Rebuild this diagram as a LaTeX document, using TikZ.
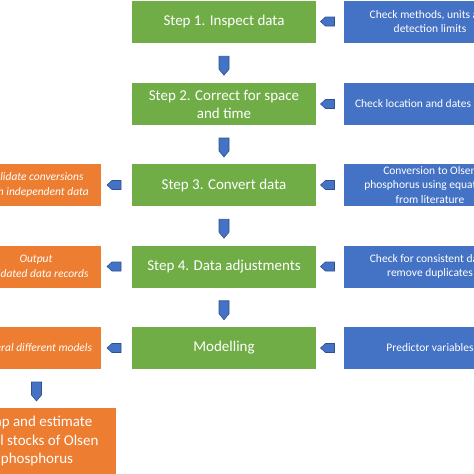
\documentclass[tikz,border=0pt]{standalone}
\usepackage{fontspec}
\setmainfont{Carlito}
\usetikzlibrary{shapes.symbols,calc}

\definecolor{stepgreen}{HTML}{70AD47}
\definecolor{checkblue}{HTML}{4472C4}
\definecolor{outorange}{HTML}{ED7D31}
\definecolor{arrowblue}{HTML}{2F528F}

\begin{document}
\begin{tikzpicture}[x = 1pt, y = -1pt,
    every node/.style = {text = white, inner sep = 0pt},
    stepbox/.style = {fill = stepgreen, minimum width = 184pt, minimum height = 42pt,
        align = center, font = \fontsize{15}{18}\selectfont},
    checkbox/.style = {fill = checkblue, minimum width = 172pt, minimum height = 42pt,
        align = center, font = \fontsize{11.5}{14.5}\selectfont},
    outbox/.style = {fill = outorange, minimum width = 130pt, minimum height = 42pt,
        align = center, font = \fontsize{11.5}{14.5}\selectfont\itshape},
    downarr/.style = {signal, signal to = south, fill = checkblue, draw = arrowblue,
        line width = 0.6pt, minimum width = 10pt, minimum height = 13pt,
        signal pointer angle = 80},
    leftarr/.style = {signal, signal to = west, fill = checkblue, draw = arrowblue,
        line width = 0.6pt, minimum width = 14pt, minimum height = 9pt,
        signal pointer angle = 85}]
            \useasboundingbox (0,0) rectangle (474,474);
            \clip (0,0) rectangle (474,474);
            
            % main steps
            \node [stepbox] (step1) at (224,21.5) {Step 1. Inspect data};
            \node [stepbox] (step2) at (224,104) {Step 2. Correct for space\\and time};
            \node [stepbox] (step3) at (224,185) {Step 3. Convert data};
            \node [stepbox] (step4) at (224,266.5) {Step 4. Data adjustments};
            \node [stepbox] (model) at (224,348) {Modelling};
            
            % checks
            \node [checkbox] (check1) at (430,21.5) {Check methods, units and\\detection limits};
            \node [checkbox] (check2) at (430,104) {};
            \node [anchor = west, font = \fontsize{11.5}{14.5}\selectfont] (check2txt)
                at ($(check2.west) + (11,0)$) {Check location and dates};
            \node [checkbox] (check3) at (430,185) {Conversion to Olsen\\phosphorus using  equations\\from literature};
            \node [checkbox] (check4) at (430,266.5) {Check for consistent data,\\remove duplicates};
            \node [checkbox] (check5) at (430,348) {Predictor variables};
            
            % outputs
            \node [outbox] (out3) at (36,185) {Validate conversions\\with independent data};
            \node [outbox] (out4) at (36,266.5) {Output\\Validated data records};
            \node [outbox] (out5) at (36,348) {Several different models};
            \node [outbox, minimum width = 157pt, minimum height = 66pt, font = \fontsize{15}{18.5}\selectfont]
                (final) at (37,441) {Map and estimate\\total stocks of Olsen\\phosphorus};
            
            % arrows
            \foreach \a/\b in {step1/step2, step2/step3, step3/step4, step4/model, out5/final}
                \node [downarr] at ($(\a.south)!0.5!(\b.north)$) {};
            \foreach \a/\b in {check1/step1, check2/step2, check3/step3, check4/step4,
                check5/model, step3/out3, step4/out4, model/out5}
                \node [leftarr] at ($(\a.west)!0.5!(\b.east)$) {};
        \end{tikzpicture}
\end{document}
